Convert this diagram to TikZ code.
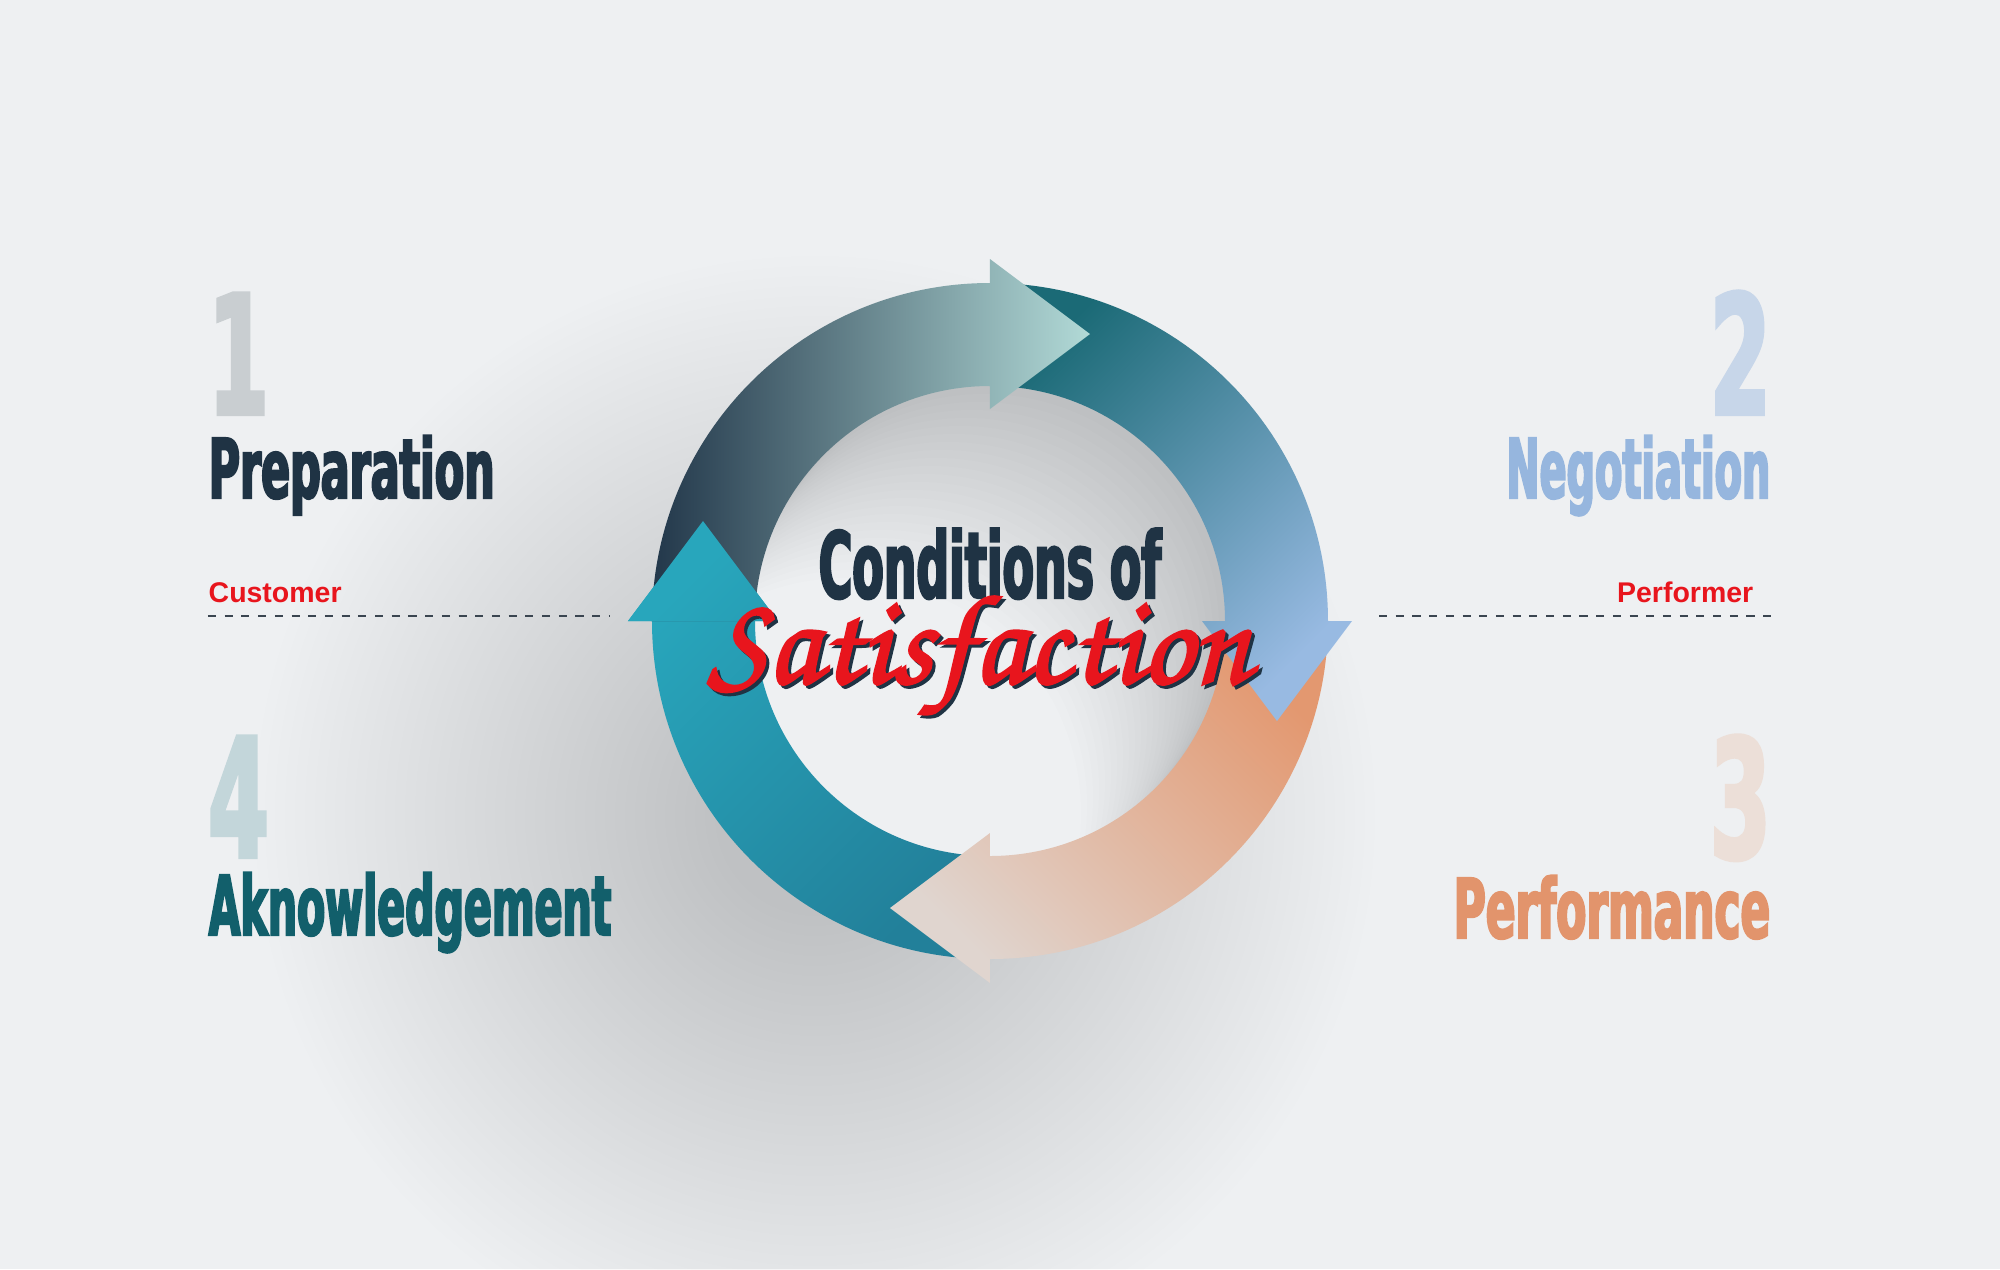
\documentclass[tikz,border=0pt]{standalone}
\usepackage{fontspec}
\usepackage{graphicx}
\setmainfont{DejaVu Sans}
\newfontfamily\cond[FakeStretch=0.52, FakeBold=2.5]{DejaVu Sans Bold}
\newfontfamily\grot{Liberation Sans}
\newfontfamily\chorus[FakeBold=2]{texgyrechorus-mediumitalic.otf}
\definecolor{bgc}{HTML}{EEF0F2}
\definecolor{navy}{HTML}{1F3344}
\definecolor{redc}{HTML}{E8151D}
\definecolor{numone}{HTML}{C9CED1}
\definecolor{numtwo}{HTML}{C7D6E9}
\definecolor{numthree}{HTML}{ECDFD8}
\definecolor{numfour}{HTML}{C3D6DA}
\definecolor{negc}{HTML}{96B6DE}
\definecolor{perfc}{HTML}{E2946C}
\definecolor{aknc}{HTML}{125F6B}
\definecolor{dashc}{HTML}{3A4550}
\definecolor{aonea}{HTML}{22374A}
\definecolor{aoneb}{HTML}{B2DAD7}
\definecolor{atwoa}{HTML}{1B6A76}
\definecolor{atwob}{HTML}{98BAE2}
\definecolor{athreea}{HTML}{E39870}
\definecolor{athreeb}{HTML}{E0D5CF}
\definecolor{afoura}{HTML}{28A6BC}
\definecolor{afourb}{HTML}{22809A}
\definecolor{shadowc}{HTML}{1A2026}
\tikzset{
  numstyle/.style={font=\cond\fontsize{47}{47}\selectfont, inner sep=0pt},
  titlestyle/.style={font=\cond\fontsize{23.4}{24}\selectfont, inner sep=0pt},
  rolestyle/.style={font=\grot\bfseries\fontsize{8.1}{8}\selectfont, text=redc, inner sep=0pt},
  dashline/.style={draw=dashc, line width=0.45pt, dash pattern=on 2.3pt off 2.45pt},
}
\begin{document}
\begin{tikzpicture}[x=0.01cm, y=0.01cm]
\useasboundingbox (-990,-648) rectangle (1010,621);
\fill[bgc] (-990,-648) rectangle (1010,621);
% outer soft shadow: blurred disk offset to lower left
\foreach \k in {0,...,46} {
  \fill[shadowc, opacity=0.0048] (-175,-195) circle ({100+10*\k});
}
% inner disk with inner shadow
\begin{scope}
  \clip (0,0) circle (236);
  \fill[bgc] (0,0) circle (240);
  \foreach \k in {1,...,24} {
    \fill[shadowc, opacity=0.009, even odd rule] (0,0) circle (240) ({-6*\k},{-8*\k}) circle (235);
  }
\end{scope}
% arrows (drawn 4,3,2,1 so that each head lies over the next body)
\shade[top color=afoura, bottom color=afourb, shading angle=45]
  (-90:338) arc[start angle=-90,end angle=-180,radius=338] -- (-180:362) -- (-287,100) -- (-180:212) -- (-180:235) arc[start angle=-180,end angle=-90,radius=235] -- cycle;
\shade[top color=athreea, bottom color=athreeb, shading angle=-45]
  (0:338) arc[start angle=0,end angle=-90,radius=338] -- (-90:362) -- (-100,-287) -- (-90:212) -- (-90:235) arc[start angle=-90,end angle=0,radius=235] -- cycle;
\shade[top color=atwoa, bottom color=atwob, shading angle=45]
  (90:338) arc[start angle=90,end angle=0,radius=338] -- (0:362) -- (287,-100) -- (0:212) -- (0:235) arc[start angle=0,end angle=90,radius=235] -- cycle;
\shade[left color=aonea, right color=aoneb]
  (180:338) arc[start angle=180,end angle=90,radius=338] -- (90:362) -- (100,287) -- (90:212) -- (90:235) arc[start angle=90,end angle=180,radius=235] -- cycle;
\begin{scope}
  \clip (-180:362) -- (-287,100) -- (-180:212) -- cycle;
  \shade[top color=afoura, bottom color=afourb, shading angle=45]
    (-90:338) arc[start angle=-90,end angle=-180,radius=338] -- (-180:362) -- (-287,100) -- (-180:212) -- (-180:235) arc[start angle=-180,end angle=-90,radius=235] -- cycle;
\end{scope}
% centre title
\node[font=\cond\fontsize{26.1}{27}\selectfont, text=navy, inner sep=0pt, anchor=base] (cond) at (0,23) {\scalebox{0.96}[1]{Conditions of}};
\node[text=navy, inner sep=0pt, anchor=base] (satsh) at (-8,-65) {\resizebox{5.42cm}{!}{\chorus Satisfaction}};
\node[text=redc, inner sep=0pt, anchor=base] (sat) at (-11,-62) {\resizebox{5.42cm}{!}{\chorus Satisfaction}};
% left side
\node[numstyle, text=numone, anchor=base west] (n1) at (-782,207) {1};
\node[titlestyle, text=navy, anchor=base west] (t1) at (-782,123) {Preparation};
\node[rolestyle, anchor=base west] (r1) at (-782,19) {Customer};
\coordinate (dla) at (-782,5);
\coordinate (dlb) at (-380,5);
\draw[dashline] (dla) -- (dlb);
\node[numstyle, text=numfour, anchor=base west] (n4) at (-782,-236) {4};
\node[titlestyle, text=aknc, anchor=base west] (t4) at (-782,-314) {\scalebox{0.96}[1]{Aknowledgement}};
% right side
\node[numstyle, text=numtwo, anchor=base east] (n2) at (781,207) {2};
\node[titlestyle, text=negc, anchor=base east] (t2) at (781,123) {\scalebox{0.93}[1]{Negotiation}};
\node[rolestyle, anchor=base east] (r2) at (764,19) {Performer};
\coordinate (dra) at (389,5);
\coordinate (drb) at (782,5);
\draw[dashline] (dra) -- (drb);
\node[numstyle, text=numthree, anchor=base east] (n3) at (781,-237) {3};
\node[titlestyle, text=perfc, anchor=base east] (t3) at (781,-317) {\scalebox{1.025}[1]{Performance}};
\end{tikzpicture}
\end{document}
